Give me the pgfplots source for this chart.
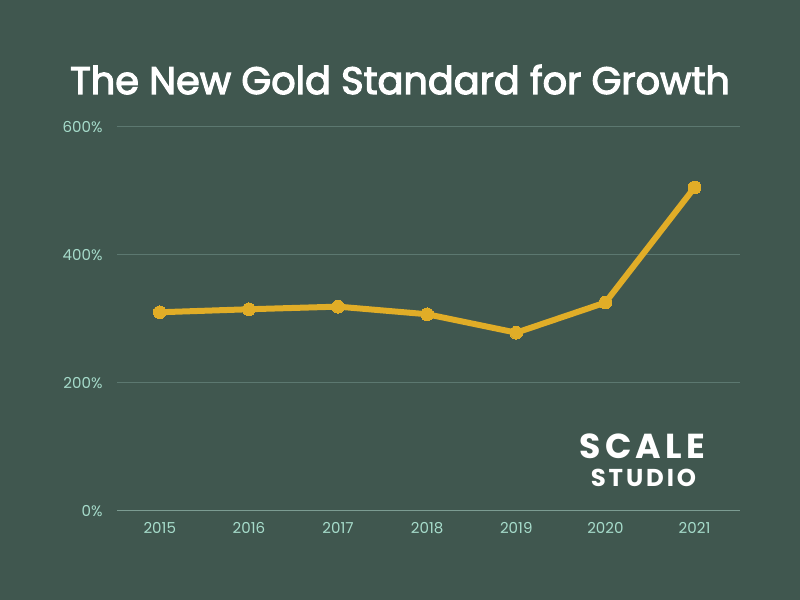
\documentclass[border=0pt]{standalone}
\usepackage{pgfplots}
\pgfplotsset{compat=1.18}
\usepackage{fontspec}
\setmainfont{Poppins}
\newfontfamily\titlefont{Poppins}[FakeBold=3]
\newfontfamily\logofont{Poppins}[LetterSpace=12]
\newfontfamily\logofontb{Poppins}[LetterSpace=12]
\definecolor{bg}{HTML}{40574F}
\definecolor{gridc}{HTML}{5C7870}
\definecolor{axisc}{HTML}{7C9C92}
\definecolor{tickc}{HTML}{A6DCCB}
\definecolor{gold}{HTML}{E1AD27}
\begin{document}
\begin{tikzpicture}[x=1pt,y=1pt]
\fill[bg] (0,0) rectangle (600,450);
\node[anchor=base, text=white, font=\titlefont\fontsize{28.7}{32}\selectfont] at (300,379.5) {The New Gold Standard for Growth};
\begin{axis}[
    at={(87.75pt,67pt)}, anchor=south west,
    scale only axis, width=467.25pt, height=288pt,
    xmin=-0.48, xmax=6.51, ymin=0, ymax=600,
    xtick={0,...,6},
    xticklabels={2015,2016,2017,2018,2019,2020,2021},
    ytick={0,200,400,600},
    yticklabels={0\%,200\%,400\%,600\%},
    axis x line*=bottom, axis y line*=left,
    y axis line style={draw=none},
    x axis line style={draw=axisc, line width=1.2pt, -},
    major tick length=0pt,
    ymajorgrids, grid style={gridc, line width=1pt},
    ticklabel style={text=tickc, font=\fontsize{11.3}{13}\selectfont, inner sep=0pt},
    xticklabel style={yshift=-8.7pt},
    yticklabel style={xshift=-10.7pt},
    clip=false,
]
\addplot[gold, line width=4.5pt, mark=*, mark size=4.8pt, mark options={fill=gold, draw=gold, line width=0pt}]
  coordinates {(0,310) (1,314.7) (2,318.8) (3,306.9) (4,278.1) (5,325.2) (6,505)};
\end{axis}
\node[anchor=base, text=white, font=\logofont\bfseries\fontsize{26}{28}\selectfont] at (481.9,105.75) {SCALE};
\node[anchor=base, text=white, font=\logofontb\bfseries\fontsize{18.3}{21}\selectfont] at (482.6,84.75) {STUDIO};
\end{tikzpicture}
\end{document}
